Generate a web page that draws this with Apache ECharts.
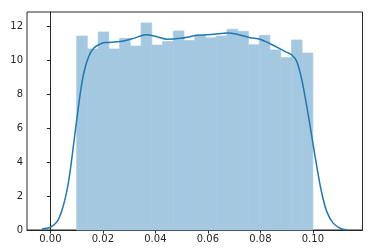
<!DOCTYPE html>
<html><head><meta charset="utf-8">
<script src="https://cdn.jsdelivr.net/npm/echarts@6/dist/echarts.min.js"></script>
<style>html,body{margin:0;padding:0;background:#fff}#c{width:371px;height:252px}</style>
</head><body><div id="c"></div>
<script>
// Histogram bin edges: 22 equal bins from 0.01 to 0.10
const binStart = 0.01;
const binEnd = 0.10;
const binDensity = [11.41, 10.65, 11.65, 10.65, 11.27, 10.82, 12.18, 10.88, 11.08, 11.71, 11.14,
                    11.47, 11.31, 11.41, 11.81, 11.69, 10.90, 11.45, 10.59, 10.14, 11.18, 10.41];
// KDE curve (x, density)
const kdeX = [-0.0032, 0.0, 0.00255, 0.00445, 0.00635, 0.0076, 0.0089, 0.0102, 0.0114, 0.0127, 0.0146,
              0.0165, 0.019, 0.0209, 0.0266, 0.0317, 0.0364, 0.0406, 0.0444, 0.0495, 0.0533, 0.0558,
              0.0622, 0.0673, 0.0711, 0.0761, 0.0799, 0.0837, 0.0870, 0.0895, 0.092, 0.0939, 0.0958,
              0.0977, 0.0996, 0.1015, 0.1034, 0.1053, 0.1078, 0.111, 0.1129];
const kdeY = [0.06, 0.16, 0.49, 1.18, 2.35, 3.53, 5.1, 6.67, 8.04, 9.22, 10.2,
              10.69, 10.94, 11.02, 11.08, 11.27, 11.48, 11.37, 11.22, 11.27, 11.37, 11.45,
              11.51, 11.58, 11.51, 11.31, 11.22, 10.95, 10.70, 10.49, 10.29, 9.9, 8.82,
              7.25, 5.49, 3.72, 2.16, 1.08, 0.39, 0.06, 0.02];
const xTicks = [0.00, 0.02, 0.04, 0.06, 0.08, 0.10];
const yTicks = [0, 2, 4, 6, 8, 10, 12];

const binW = (binEnd - binStart) / binDensity.length;
const barData = binDensity.map((v, i) => [binStart + i * binW, binStart + (i + 1) * binW, v]);
const lineData = kdeX.map((x, i) => [x, kdeY[i]]);

const barColor = 'rgb(165,200,225)';
const txt = {color: '#262626', fontFamily: 'DejaVu Sans', fontSize: 10};
const chart = echarts.init(document.getElementById('c'));
chart.setOption({
  animation: false,
  grid: {left: 27, right: 8.5, top: 12, bottom: 22, show: true, borderColor: '#262626', borderWidth: 1, backgroundColor: 'transparent'},
  xAxis: {
    type: 'value', min: -0.0089, max: 0.1189,
    axisLine: {show: true, lineStyle: {color: '#262626', width: 1}},
    axisTick: {show: true, length: 3.5, lineStyle: {color: '#262626'}, customValues: xTicks},
    axisLabel: Object.assign({margin: 4, customValues: xTicks, formatter: v => v.toFixed(2)}, txt),
    splitLine: {show: false}
  },
  yAxis: {
    type: 'value', min: 0, max: 12.82,
    axisLine: {show: true, lineStyle: {color: '#262626', width: 1}},
    axisTick: {show: true, length: 3.5, lineStyle: {color: '#262626'}, customValues: yTicks},
    axisLabel: Object.assign({margin: 4, customValues: yTicks, formatter: v => String(v)}, txt),
    splitLine: {show: false}
  },
  series: [
    {
      type: 'custom',
      data: barData,
      encode: {x: [0, 1], y: 2},
      renderItem: function (params, api) {
        const p0 = api.coord([api.value(0), api.value(2)]);
        const p1 = api.coord([api.value(1), 0]);
        return {type: 'rect', shape: {x: p0[0], y: p0[1], width: p1[0] - p0[0], height: p1[1] - p0[1]},
                style: {fill: barColor, stroke: barColor, lineWidth: 0.6}};
      },
      z: 1
    },
    {
      type: 'line', data: lineData, smooth: 0.3, showSymbol: false,
      lineStyle: {color: '#1f77b4', width: 1.5}, z: 2
    }
  ]
});
</script></body></html>
